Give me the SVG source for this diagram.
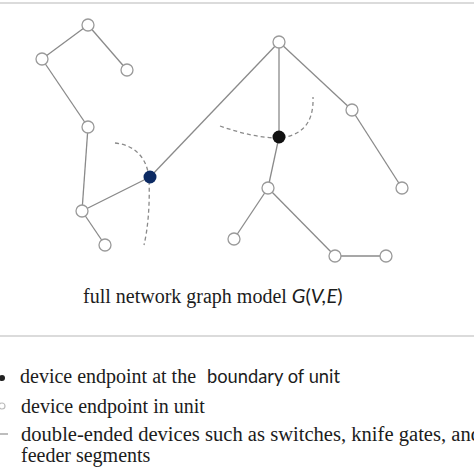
<svg xmlns="http://www.w3.org/2000/svg" width="474" height="474" viewBox="0 0 474 474">
<style>
.edge{stroke:#8a8a8a;stroke-width:1.3;fill:none}
.dash{stroke:#8a8a8a;stroke-width:1.3;fill:none;stroke-dasharray:4 3}
.node{fill:#fff;stroke:#9a9a9a;stroke-width:1.3}
.rule{stroke:#cfcfcf;stroke-width:1.5}
.serif{font-family:"Liberation Serif","Times New Roman",serif;font-size:20px;fill:#1c1c1c}
.sans{font-family:Lato,"Liberation Sans",sans-serif;font-size:20px;fill:#1c1c1c}
</style>
<rect width="474" height="474" fill="#fff"/>
<line class="rule" x1="0" y1="3" x2="474" y2="3"/>
<line class="rule" x1="0" y1="336" x2="474" y2="336"/>
<g id="connectors">
<line class="edge" x1="88" y1="25" x2="42" y2="59"/>
<line class="edge" x1="88" y1="25" x2="127" y2="70"/>
<line class="edge" x1="42" y1="59" x2="88" y2="127"/>
<line class="edge" x1="88" y1="127" x2="82" y2="211"/>
<line class="edge" x1="82" y1="211" x2="105" y2="245"/>
<line class="edge" x1="82" y1="211" x2="150" y2="177"/>
<line class="edge" x1="150" y1="177" x2="279" y2="42"/>
<line class="edge" x1="279" y1="42" x2="279" y2="137"/>
<line class="edge" x1="279" y1="42" x2="352" y2="110"/>
<line class="edge" x1="352" y1="110" x2="402" y2="188"/>
<line class="edge" x1="279" y1="137" x2="268" y2="188"/>
<line class="edge" x1="268" y1="188" x2="234" y2="239"/>
<line class="edge" x1="268" y1="188" x2="335" y2="256"/>
<line class="edge" x1="335" y1="256" x2="386" y2="256"/>
<path class="dash" d="M115,143 C135,145 147,158 149,178 C150,205 148,228 144,245"/>
<path class="dash" d="M220,126 C240,133 260,138 279,138 C300,136 314,125 313,97"/>
</g>
<g id="n1"><circle class="node" cx="88" cy="25" r="6"/></g>
<g id="n2"><circle class="node" cx="42" cy="59" r="6"/></g>
<g id="n3"><circle class="node" cx="127" cy="70" r="6"/></g>
<g id="n4"><circle class="node" cx="88" cy="127" r="6"/></g>
<g id="n5"><circle class="node" cx="82" cy="211" r="6"/></g>
<g id="n6"><circle class="node" cx="105" cy="245" r="6"/></g>
<g id="n7"><circle cx="150" cy="177" r="6.5" fill="#0c2a63"/></g>
<g id="n8"><circle class="node" cx="279" cy="42" r="6"/></g>
<g id="n9"><circle class="node" cx="352" cy="110" r="6"/></g>
<g id="n10"><circle cx="279" cy="137" r="6.5" fill="#111"/></g>
<g id="n11"><circle class="node" cx="402" cy="188" r="6"/></g>
<g id="n12"><circle class="node" cx="268" cy="188" r="6"/></g>
<g id="n13"><circle class="node" cx="234" cy="239" r="6"/></g>
<g id="n14"><circle class="node" cx="335" cy="256" r="6"/></g>
<g id="n15"><circle class="node" cx="386" cy="256" r="6"/></g>
<g id="caption">
<text x="83" y="303" class="serif" font-size="19.5">full network graph model <tspan class="sans" font-style="italic" font-size="19.5">G</tspan><tspan class="sans" font-size="19.5">(</tspan><tspan class="sans" font-style="italic" font-size="19.5">V,E</tspan><tspan class="sans" font-size="19.5">)</tspan></text>
</g>
<g id="legend">
<circle cx="2" cy="378" r="3" fill="#222"/>
<circle cx="2" cy="406" r="3" fill="#fff" stroke="#bbb" stroke-width="1.2"/>
<line x1="0" y1="434" x2="8" y2="434" stroke="#999" stroke-width="1.3"/>
<text x="20" y="383" class="serif">device endpoint at the <tspan x="207" class="sans" textLength="133" lengthAdjust="spacingAndGlyphs">boundary of unit</tspan></text>
<text x="21" y="413" class="serif">device endpoint in unit</text>
<text x="21" y="441" class="serif" textLength="460" lengthAdjust="spacingAndGlyphs">double-ended devices such as switches, knife gates, and</text>
<text x="21" y="462" class="serif">feeder segments</text>
</g>
</svg>
